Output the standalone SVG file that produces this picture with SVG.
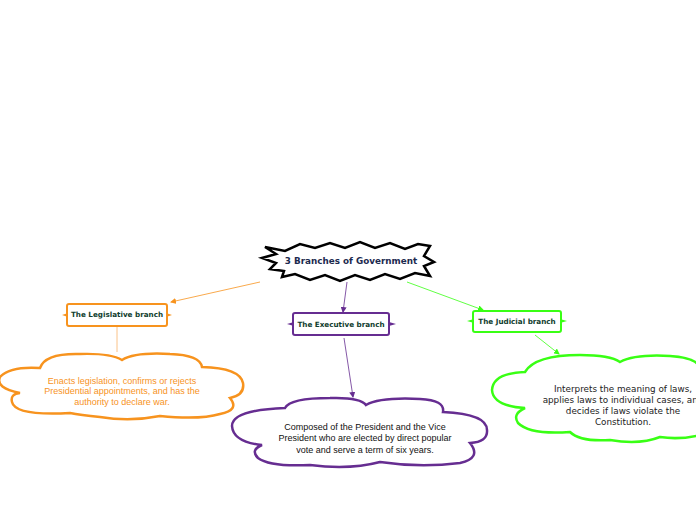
<svg xmlns="http://www.w3.org/2000/svg" width="696" height="520" viewBox="0 0 696 520">
<style>
.lbl{font-family:"DejaVu Sans",sans-serif;font-weight:bold;font-size:7.2px;fill:#0f3d2e;text-anchor:middle}
.ct{font-family:"Liberation Sans",Arial,sans-serif;font-size:9px;text-anchor:middle}
.jt{font-family:"DejaVu Sans",sans-serif;font-size:8.8px;text-anchor:middle;fill:#222}
</style>
<defs>
<marker id="ao" markerWidth="6" markerHeight="6" refX="5" refY="3" orient="auto" markerUnits="userSpaceOnUse"><path d="M0,0L6,3L0,6z" fill="#f7931e"/></marker>
<marker id="ap" markerWidth="6" markerHeight="6" refX="5" refY="3" orient="auto" markerUnits="userSpaceOnUse"><path d="M0,0L6,3L0,6z" fill="#662d91"/></marker>
<marker id="ag" markerWidth="6" markerHeight="6" refX="5" refY="3" orient="auto" markerUnits="userSpaceOnUse"><path d="M0,0L6,3L0,6z" fill="#39ff14"/></marker>
</defs>
<rect width="696" height="520" fill="#fff"/>
<g id="connectors" fill="none">
<line x1="260" y1="282" x2="171" y2="302" stroke="#f7931e" stroke-width="0.8" marker-end="url(#ao)"/>
<line x1="347" y1="282" x2="343" y2="312" stroke="#662d91" stroke-width="0.8" marker-end="url(#ap)"/>
<line x1="407" y1="282" x2="483" y2="310" stroke="#39ff14" stroke-width="0.8" marker-end="url(#ag)"/>
<line x1="117" y1="327" x2="117" y2="352" stroke="#f9b36a" stroke-width="0.8"/>
<line x1="344" y1="338" x2="353" y2="397" stroke="#662d91" stroke-width="0.8" marker-end="url(#ap)"/>
<line x1="535" y1="335" x2="559" y2="354" stroke="#39ff14" stroke-width="0.8" marker-end="url(#ag)"/>
</g>
<g id="root">
<path d="M265,247 L285,251 L300,244 L315,248 L330,243 L345,248 L360,242 L375,248 L390,243 L405,249 L418,244 L430,246 L424,256 L434,262 L424,266 L430,276 L415,273 L400,279 L385,274 L370,280 L355,275 L340,281 L325,275 L310,280 L295,274 L282,277 L284,271 L270,269 L276,263 L262,258 L276,254 Z" fill="#fff" stroke="#000" stroke-width="2.5" stroke-linejoin="miter"/>
<text x="351" y="264" style="font-family:'DejaVu Sans',sans-serif;font-weight:bold;font-size:8.8px;fill:#1c2a4f;text-anchor:middle">3 Branches of Government</text>
</g>
<g id="legislative">
<path d="M62,315 L68,313 L68,317 Z M172,315 L166,313 L166,317 Z" fill="#f7931e"/>
<rect x="67" y="304" width="100" height="22" rx="2" fill="#fff" stroke="#f7931e" stroke-width="2"/>
<text class="lbl" x="117" y="317">The Legislative branch</text>
</g>
<g id="executive">
<path d="M287,324 L294,322 L294,326 Z M396,324 L389,322 L389,326 Z" fill="#662d91"/>
<rect x="293" y="313" width="96" height="22" rx="2" fill="#fff" stroke="#662d91" stroke-width="2"/>
<text class="lbl" x="341" y="327">The Executive branch</text>
</g>
<g id="judicial">
<path d="M467,321 L474,319 L474,323 Z M567,321 L560,319 L560,323 Z" fill="#39ff14"/>
<rect x="473" y="311" width="88" height="21" rx="2" fill="#fff" stroke="#39ff14" stroke-width="2"/>
<text class="lbl" x="517" y="324">The Judicial branch</text>
</g>
<g id="legis-note">
<path d="M40,368 Q45,353 80,354 Q110,353 122,360 Q135,352 170,354 Q200,355 202,367 Q240,368 243,383 Q245,395 230,398 Q240,410 220,414 Q200,420 160,416 Q130,422 100,417 Q80,415 70,413 Q15,416 12,402 Q10,394 20,393 Q-5,388 0,377 Q10,366 40,368 Z" fill="#fff" stroke="#f7931e" stroke-width="2.5"/>
<text class="ct" fill="#f7931e" x="122" y="384">Enacts legislation, confirms or rejects</text>
<text class="ct" fill="#f7931e" x="122" y="394">Presidential appointments, and has the</text>
<text class="ct" fill="#f7931e" x="122" y="405">authority to declare war.</text>
</g>
<g id="exec-note">
<path d="M285,408 Q290,398 330,398 Q360,397 366,405 Q380,397 420,399 Q445,400 443,412 Q487,414 487,430 Q488,442 470,443 Q482,458 460,463 Q420,468 380,462 Q350,470 310,465 Q270,467 258,458 Q250,450 262,445 Q233,442 232,426 Q232,410 285,408 Z" fill="#fff" stroke="#662d91" stroke-width="2.5"/>
<text class="ct" fill="#111" x="365" y="430">Composed of the President and the Vice</text>
<text class="ct" fill="#111" x="365" y="441">President who are elected by direct popular</text>
<text class="ct" fill="#111" x="365" y="453">vote and serve a term of six years.</text>
</g>
<g id="judicial-note">
<path d="M525,372 Q535,355 580,355 Q610,355 620,362 Q635,354 670,356 Q700,358 700,370 L700,435 Q680,440 660,437 Q640,445 610,440 Q580,442 570,432 Q530,435 518,423 Q512,414 525,408 Q493,406 492,390 Q493,373 525,372 Z" fill="#fff" stroke="#39ff14" stroke-width="2.5"/>
<text class="jt" x="623" y="392">Interprets the meaning of laws,</text>
<text class="jt" x="623" y="403">applies laws to individual cases, and</text>
<text class="jt" x="623" y="414">decides if laws violate the</text>
<text class="jt" x="623" y="425">Constitution.</text>
</g>
</svg>
